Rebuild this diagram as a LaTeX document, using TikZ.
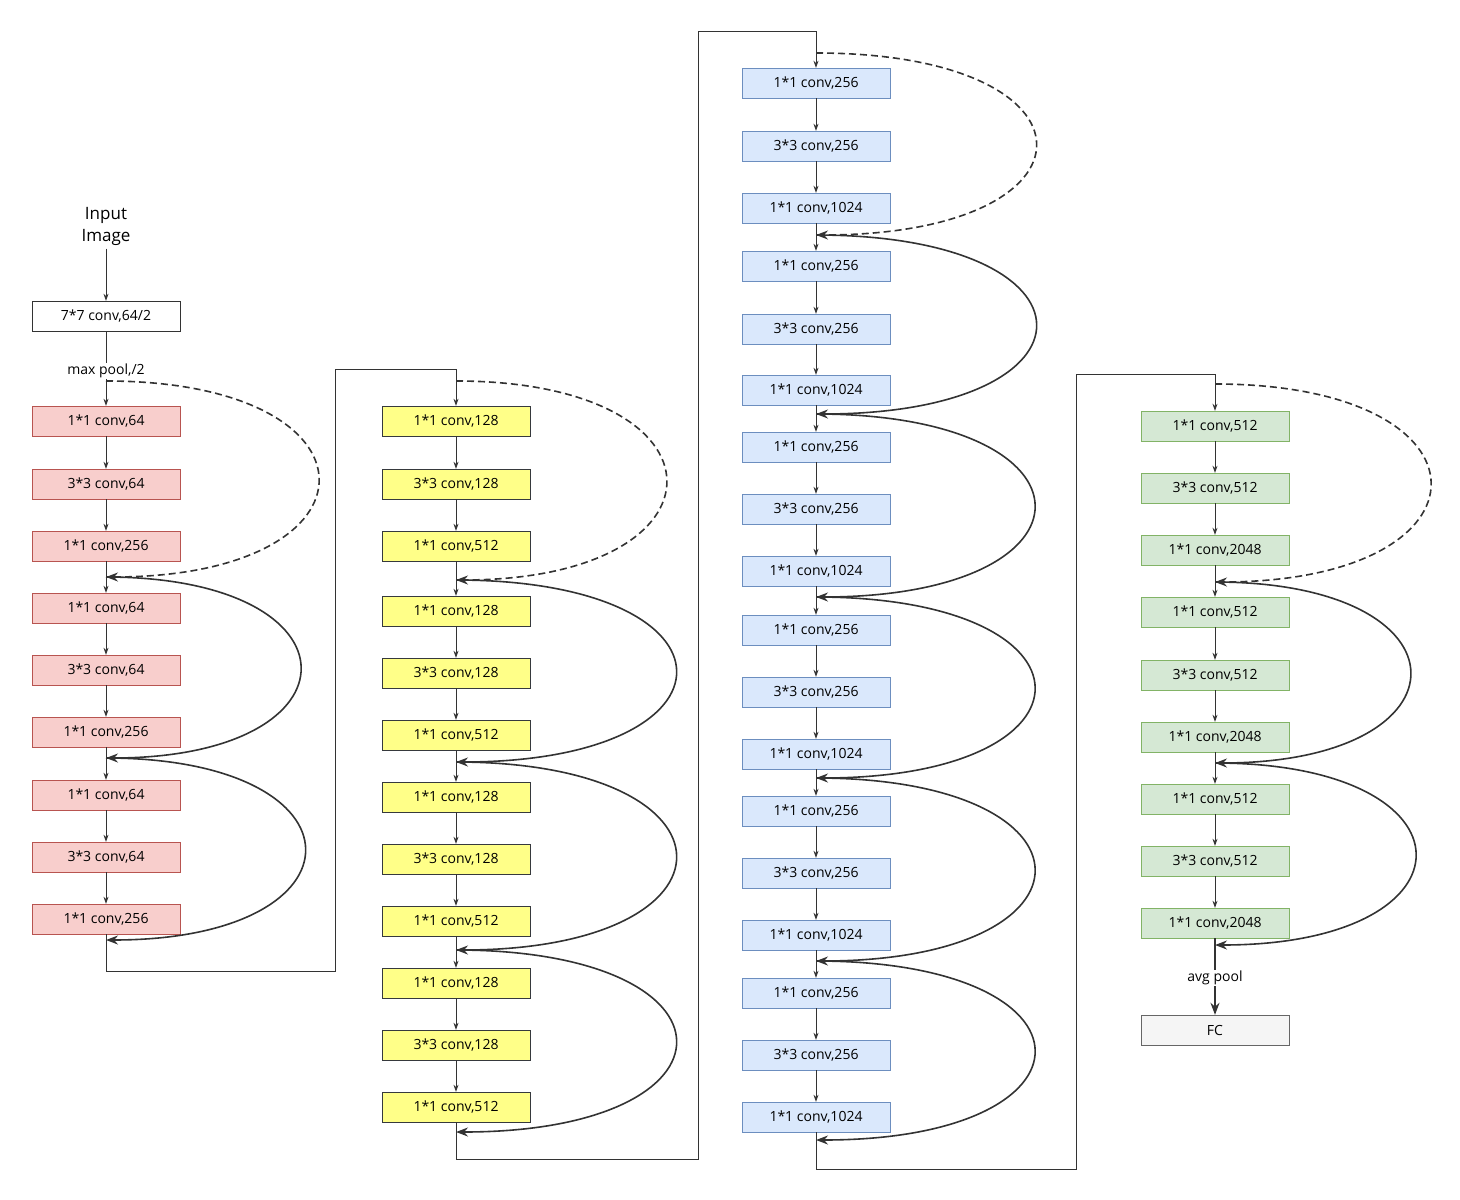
\documentclass[tikz,border=0pt]{standalone}
\usepackage{fontspec}
\setmainfont{Open Sans}
\usetikzlibrary{arrows.meta,calc}
\definecolor{pk}{HTML}{F8CECC}\definecolor{pkb}{HTML}{B85450}
\definecolor{yl}{HTML}{FFFF88}\definecolor{ylb}{HTML}{36393D}
\definecolor{bl}{HTML}{DAE8FC}\definecolor{blb}{HTML}{6C8EBF}
\definecolor{gr}{HTML}{D5E8D4}\definecolor{grb}{HTML}{82B366}
\definecolor{fc}{HTML}{F5F5F5}\definecolor{fcb}{HTML}{666666}
\definecolor{ln}{HTML}{333333}
\newcommand\skp[4]{\draw[#1] (#2) .. controls ($(#2)+(#4,0)$) and ($(#3)+(#4,0)$) .. (#3);}
\begin{document}
\begin{tikzpicture}[x=1pt,y=-1pt,
 box/.style={draw, minimum width=148, minimum height=30, inner sep=0, font=\fontsize{14}{16}\selectfont},
 pkbox/.style={box,fill=pk,draw=pkb},
 ylbox/.style={box,fill=yl,draw=ylb},
 blbox/.style={box,fill=bl,draw=blb},
 grbox/.style={box,fill=gr,draw=grb},
 ar/.style={draw=ln,line width=0.8pt,-{Stealth[length=7pt,width=5pt]}},
 ln/.style={draw=ln,line width=0.8pt},
 sk/.style={draw=ln,line width=1.6pt,-{Stealth[length=12pt,width=9pt]}},
 dk/.style={sk,dash pattern=on 7pt off 4pt}]
\useasboundingbox (0,0) rectangle (1460,1200);
% column 1
\node[font=\fontsize{17}{22}\selectfont,align=center] (inp) at (106,226) {Input\\Image};
\node[box,draw=ln] (c0) at (106,316) {7*7 conv,64/2};
\node[font=\fontsize{14}{16}\selectfont,fill=white,inner sep=1pt] (mp) at (106,371) {max pool,/2};
\foreach \y/\t [count=\i] in {421/1*1 conv{,}64,484/3*3 conv{,}64,546/1*1 conv{,}256,608/1*1 conv{,}64,670/3*3 conv{,}64,732/1*1 conv{,}256,795/1*1 conv{,}64,857/3*3 conv{,}64,919/1*1 conv{,}256}
  \node[pkbox] (a\i) at (106,\y) {\t};
\foreach \y/\t [count=\i] in {421/1*1 conv{,}128,484/3*3 conv{,}128,546/1*1 conv{,}512,611/1*1 conv{,}128,673/3*3 conv{,}128,735/1*1 conv{,}512,797/1*1 conv{,}128,859/3*3 conv{,}128,921/1*1 conv{,}512,983/1*1 conv{,}128,1045/3*3 conv{,}128,1107/1*1 conv{,}512}
  \node[ylbox] (b\i) at (456,\y) {\t};
\foreach \y/\t [count=\i] in {83/1*1 conv{,}256,146/3*3 conv{,}256,208/1*1 conv{,}1024,266/1*1 conv{,}256,329/3*3 conv{,}256,390/1*1 conv{,}1024,447/1*1 conv{,}256,509/3*3 conv{,}256,571/1*1 conv{,}1024,630/1*1 conv{,}256,692/3*3 conv{,}256,754/1*1 conv{,}1024,811/1*1 conv{,}256,873/3*3 conv{,}256,935/1*1 conv{,}1024,993/1*1 conv{,}256,1055/3*3 conv{,}256,1117/1*1 conv{,}1024}
  \node[blbox] (c\i) at (816,\y) {\t};
\foreach \y/\t [count=\i] in {426/1*1 conv{,}512,488/3*3 conv{,}512,550/1*1 conv{,}2048,612/1*1 conv{,}512,675/3*3 conv{,}512,737/1*1 conv{,}2048,799/1*1 conv{,}512,861/3*3 conv{,}512,923/1*1 conv{,}2048}
  \node[grbox] (d\i) at (1215,\y) {\t};
\node[box,fill=fc,draw=fcb] (fc) at (1215,1030) {FC};
\node[font=\fontsize{14}{16}\selectfont,fill=white,inner sep=1pt] (ap) at (1215,978) {avg pool};
% vertical arrows
\draw[ar] (inp) -- (c0);
\draw[ln] (c0) -- (mp);
\draw[ar] (mp) -- (a1);
\foreach \i [evaluate=\i as \j using int(\i+1)] in {1,...,8} \draw[ar] (a\i) -- (a\j);
\foreach \i [evaluate=\i as \j using int(\i+1)] in {1,...,11} \draw[ar] (b\i) -- (b\j);
\foreach \i [evaluate=\i as \j using int(\i+1)] in {1,...,17} \draw[ar] (c\i) -- (c\j);
\foreach \i [evaluate=\i as \j using int(\i+1)] in {1,...,8} \draw[ar] (d\i) -- (d\j);
\draw[line width=1.6pt,draw=ln] (d9) -- (ap);
\draw[sk] (ap) -- (fc);
% stage connectors
\coordinate (k1) at (106,971); \coordinate (k2) at (335,971); \coordinate (k3) at (335,369); \coordinate (k4) at (456,369);
\draw[ar] (a9.south) -- (k1) -- (k2) -- (k3) -- (k4) -- (b1.north);
\coordinate (m1) at (456,1159); \coordinate (m2) at (698,1159); \coordinate (m3) at (698,31); \coordinate (m4) at (816,31);
\draw[ar] (b12.south) -- (m1) -- (m2) -- (m3) -- (m4) -- (c1.north);
\coordinate (n1) at (816,1169); \coordinate (n2) at (1076,1169); \coordinate (n3) at (1076,374); \coordinate (n4) at (1215,374);
\draw[ar] (c18.south) -- (n1) -- (n2) -- (n3) -- (n4) -- (d1.north);
% junction coordinates
\coordinate (as) at (106,381); \coordinate (aj1) at (106,577); \coordinate (aj2) at (106,758); \coordinate (ae) at (106,940);
\coordinate (bs) at (456,381); \coordinate (bj1) at (456,580); \coordinate (bj2) at (456,762); \coordinate (bj3) at (456,950); \coordinate (be) at (456,1132);
\coordinate (cs) at (816,53); \coordinate (cj1) at (816,235); \coordinate (cj2) at (816,414); \coordinate (cj3) at (816,597); \coordinate (cj4) at (816,778); \coordinate (cj5) at (816,961); \coordinate (ce) at (816,1140);
\coordinate (ds) at (1215,384); \coordinate (dj1) at (1215,582); \coordinate (dj2) at (1215,763); \coordinate (de) at (1215,945);
% skip curves
\skp{dk}{as}{aj1}{283}
\skp{sk}{aj1}{aj2}{259}
\skp{sk}{aj2}{ae}{265}
\skp{dk}{bs}{bj1}{280}
\skp{sk}{bj1}{bj2}{293}
\skp{sk}{bj2}{bj3}{293}
\skp{sk}{bj3}{be}{293}
\skp{dk}{cs}{cj1}{293}
\skp{sk}{cj1}{cj2}{293}
\skp{sk}{cj2}{cj3}{291}
\skp{sk}{cj3}{cj4}{291}
\skp{sk}{cj4}{cj5}{291}
\skp{sk}{cj5}{ce}{291}
\skp{dk}{ds}{dj1}{287}
\skp{sk}{dj1}{dj2}{260}
\skp{sk}{dj2}{de}{267}
\end{tikzpicture}
\end{document}
